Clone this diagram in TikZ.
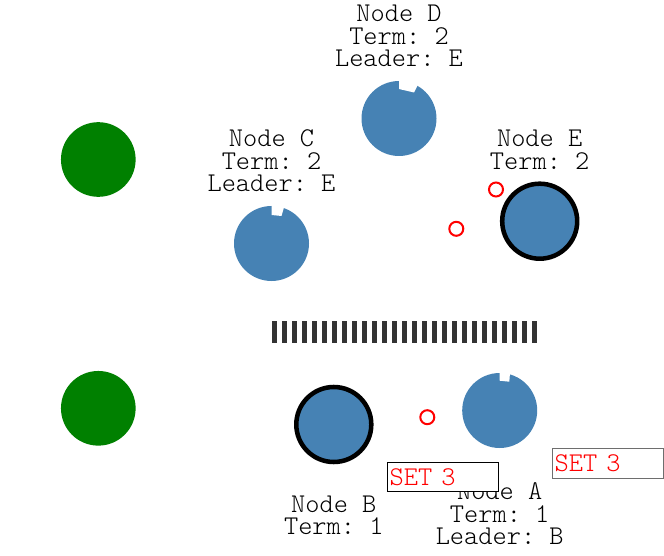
\documentclass[tikz,border=0pt]{standalone}
\usepackage{fontspec}
\setmonofont{Latin Modern Mono Light}
\usetikzlibrary{positioning}
\definecolor{srvblue}{RGB}{70,130,180}
\definecolor{srvgreen}{RGB}{0,128,0}
\definecolor{bargray}{RGB}{51,51,51}
\definecolor{boxgray}{RGB}{110,110,110}
\tikzset{
  srv/.style={circle, fill=srvblue, minimum size=56.25pt, inner sep=0pt, outer sep=0pt},
  leader/.style={srv, draw=black, line width=3.4pt},
  peer/.style={circle, fill=srvgreen, minimum size=56pt, inner sep=0pt},
  vote/.style={circle, draw=red, line width=1.5pt, minimum size=10.5pt, inner sep=0pt},
  lbl/.style={font=\ttfamily\fontsize{20.3}{16.9}\selectfont, align=center, inner sep=0pt},
  msg/.style={draw, fill=white, text=red, font=\ttfamily\fontsize{20.3}{18}\selectfont,
    text width=80pt, inner xsep=1.9pt, inner ysep=0pt, minimum height=22pt,
    align=left, anchor=north west, line width=0.75pt}
}
\begin{document}
\begin{tikzpicture}[x=0.75pt, y=-0.75pt]
  \useasboundingbox (0,0) rectangle (664,556);

  % left column
  \node[peer] (p1) at (98.3,159.5) {};
  \node[peer] (p2) at (98.3,408.3) {};

  % servers
  \node[srv] (d) at (399,118.5) {};
  \node[srv] (c) at (271.5,243.5) {};
  \node[leader] (e) at (539.7,221.2) {};
  \node[leader] (b) at (333.8,424.5) {};
  \node[srv] (a) at (499.7,410.5) {};

  \begin{scope}[shift={(d.center)}]
    \fill[white] (0,-40) -- (0,-29.5) -- (15,-26) -- (20,-36) -- cycle;
  \end{scope}
  \begin{scope}[shift={(c.center)}]
    \fill[white] (0,-40) -- (0,-28.5) -- (10,-27.5) -- (13,-38) -- cycle;
  \end{scope}
  \begin{scope}[shift={(a.center)}]
    \fill[white] (0,-40) -- (0,-29.8) -- (9.6,-28.8) -- (10.5,-40) -- cycle;
  \end{scope}

  \node[lbl, above=10.5pt of d] (dl) {Node D\\Term: 2\\Leader: E};
  \node[lbl, above=10.5pt of c] (cl) {Node C\\Term: 2\\Leader: E};
  \node[lbl, above=10.5pt of e] (el) {Node E\\Term: 2};
  \node[lbl, below=25pt of b] (bl) {Node B\\Term: 1};
  \node[lbl, below=26pt of a] (al) {Node A\\Term: 1\\Leader: B};

  % votes in flight
  \node[vote] (v1) at (496,189.5) {};
  \node[vote] (v2) at (456.3,228.8) {};
  \node[vote] (v3) at (427.3,417.2) {};

  % partition
  \foreach \i in {0,...,26}
    \fill[bargray] (271.7+10*\i,321) rectangle ++(5,22.3);

  % client requests
  \node[msg] (m1) at (386.7,461.7) {SET 3};
  \node[msg, draw=boxgray] (m2) at (551.7,448.3) {SET 3};
\end{tikzpicture}
\end{document}
